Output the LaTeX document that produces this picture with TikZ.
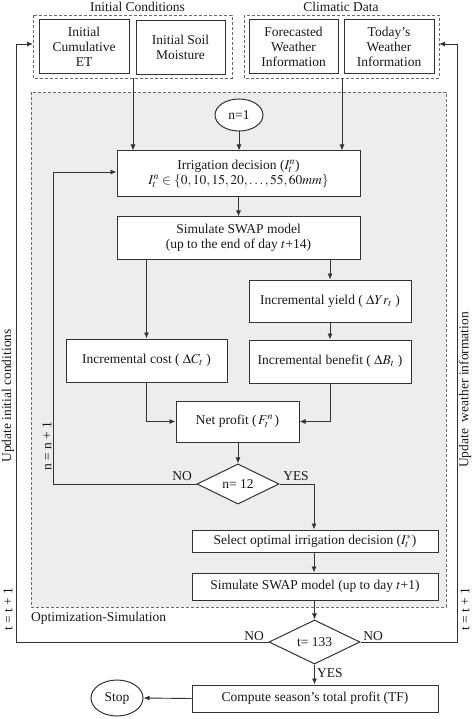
\documentclass[tikz,border=0pt]{standalone}
\usepackage{mathptmx}
\usepackage{fontspec}
\setmainfont{Liberation Serif}
\usetikzlibrary{shapes.geometric,arrows.meta}
\definecolor{ln}{HTML}{333333}
\definecolor{regfill}{HTML}{EDEDED}
\definecolor{dsh}{HTML}{6A6A6A}
\tikzset{
  every node/.style={font=\fontsize{13.5}{15}\selectfont, text=black!90},
  box/.style={draw=ln, line width=1pt, fill=white, inner sep=1pt, align=center},
  grp/.style={draw=dsh, line width=0.9pt, dash pattern=on 3pt off 2pt, fill=white},
  region/.style={draw=dsh, line width=0.9pt, dash pattern=on 3pt off 2pt, fill=regfill},
  dec/.style={draw=ln, line width=1pt, fill=white, shape=diamond, inner sep=0pt, minimum height=40pt},
  ell/.style={draw=ln, line width=1pt, fill=white, shape=ellipse, inner sep=0pt},
  arr/.style={draw=ln, line width=0.9pt, -{Latex[length=6pt,width=5pt]}},
  lbl/.style={inner sep=0pt}
}
\begin{document}
\begin{tikzpicture}[x=1pt,y=-1pt]
\useasboundingbox (0,0) rectangle (474,719);
% group boxes
\draw[grp] (33,15) rectangle (232,78);
\draw[grp] (244,15) rectangle (439,78);
\node[lbl] (iclbl) at (137.5,7) {Initial Conditions};
\node[lbl] (cdlbl) at (341,7) {Climatic Data};
\node[box, minimum width=90pt, minimum height=54pt] (ic1) at (84,47) {Initial\\Cumulative\\ET};
\node[box, minimum width=89pt, minimum height=54pt, anchor=north] (ic2) at (180.5,20) {Initial Soil\\Moisture};
\node[box, minimum width=89pt, minimum height=54pt] (cd1) at (293.5,47) {Forecasted\\Weather\\Information};
\node[box, minimum width=90pt, minimum height=54pt] (cd2) at (389,47) {Today's\\Weather\\Information};
\coordinate (icb) at (133,78);
\coordinate (cdb) at (342,78);
\coordinate (icl) at (33,44);
\coordinate (cdr) at (439,44);
% region
\draw[region] (31,92) rectangle (446,607);
\node[lbl, anchor=west] (optlbl) at (31,618) {Optimization-Simulation};
% nodes
\node[ell, minimum width=48pt, minimum height=32pt] (n1) at (239,115) {n=1};
\node[box, minimum width=243pt, minimum height=46pt] (irr) at (238.5,174) {Irrigation decision ($I_t^n$)\\$I_t^n \in \{0,10,15,20,\ldots,55,60mm\}$};
\node[box, minimum width=243pt, minimum height=42pt] (swap) at (238.5,238) {Simulate SWAP model\\(up to the end of day $t$+14)};
\node[box, minimum width=162pt, minimum height=42pt] (yld) at (330,301) {Incremental yield ( $\Delta Yr_t$ )};
\node[box, minimum width=161pt, minimum height=43pt] (cost) at (146.5,360.5) {Incremental cost ( $\Delta C_t$ )};
\node[box, minimum width=162pt, minimum height=43pt] (ben) at (330,361.5) {Incremental benefit ( $\Delta B_t$ )};
\node[box, minimum width=123pt, minimum height=41pt] (net) at (237.5,421.5) {Net profit ($\,F_t^n\,$)};
\node[dec, minimum width=82pt] (d12) at (238,484) {n= 12};
\node[box, minimum width=246pt, minimum height=22pt] (sel) at (315,541) {Select optimal irrigation decision ($I_t^{*}$)};
\node[box, minimum width=246pt, minimum height=27pt] (swap2) at (315,586.5) {Simulate SWAP model (up to day $t$+1)};
\node[dec, minimum width=91pt] (d133) at (314.5,642) {t= 133};
\node[box, minimum width=246pt, minimum height=27pt] (comp) at (315,698.5) {Compute season's total profit (TF)};
\node[ell, minimum width=52pt, minimum height=36pt] (stop) at (117,698) {Stop};
% connectors
\draw[arr] (icb) -- (icb |- irr.north);
\draw[arr] (cdb) -- (cdb |- irr.north);
\draw[arr] (n1) -- (irr.north -| n1);
\draw[arr] (irr.south -| swap) -- (swap);
\draw[arr] (swap.south -| cost) -- (cost);
\draw[arr] (swap.south -| yld) -- (yld);
\draw[arr] (yld) -- (ben);
\draw[arr] (cost.south) |- (net.west);
\draw[arr] (ben.south) |- (net.east);
\draw[arr] (net.south -| d12) -- (d12.north);
\coordinate (lp) at (53,172);
\draw[arr] (d12.west) -| (lp) -- (irr.west |- lp);
\coordinate (yc) at (314,484);
\draw[arr] (d12.east) -- (yc) -- (yc |- sel.north);
\draw[arr] (sel.south -| yc) -- (yc |- swap2.north);
\draw[arr] (swap2.south -| d133) -- (d133.north);
\draw[arr] (d133.south) -- (d133.south |- comp.north);
\draw[arr] (comp.west) -- (stop.east);
\coordinate (ol) at (16,642);
\coordinate (or) at (457,642);
\draw[arr] (d133.west) -- (ol) |- (icl);
\draw[arr] (d133.east) -- (or) |- (cdr);
% labels
\node[lbl] (no1) at (182,476) {NO};
\node[lbl] (yes1) at (296,476) {YES};
\node[lbl] (no2) at (254,636) {NO};
\node[lbl] (no3) at (373,636) {NO};
\node[lbl, anchor=west] (yes2) at (317,673) {YES};
\node[lbl, rotate=90] (nn) at (47,446) {n = n + 1};
\node[lbl, rotate=90] (uic) at (8,396) {Update initial conditions};
\node[lbl, rotate=90] (tl) at (8,609) {t = t + 1};
\node[lbl, rotate=90] (uwi) at (465,390) {Update\ \ weather information};
\node[lbl, rotate=90] (tr) at (465,609) {t = t + 1};
\end{tikzpicture}
\end{document}
